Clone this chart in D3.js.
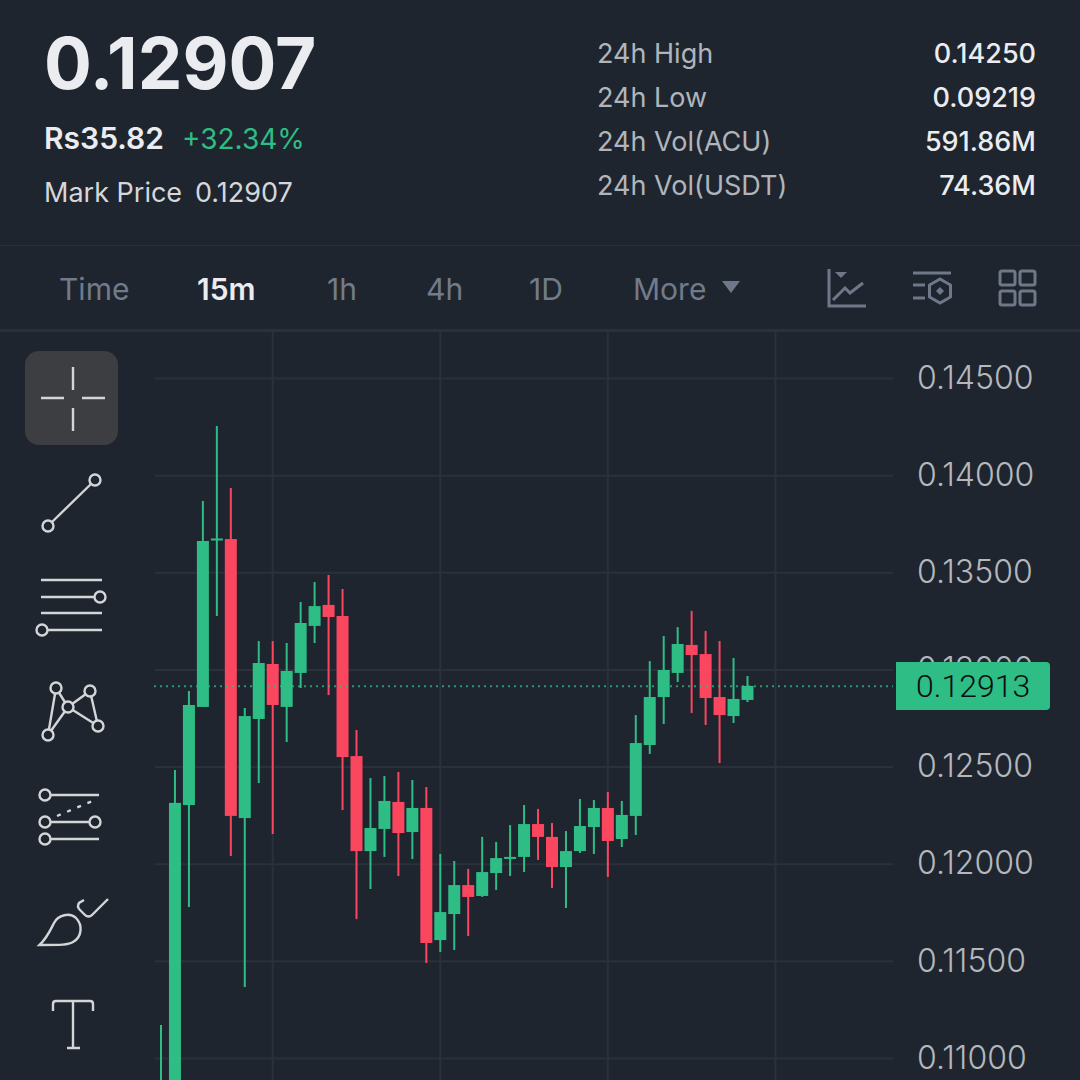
<!DOCTYPE html>
<html>
<head>
<meta charset="utf-8">
<script src="https://cdn.jsdelivr.net/npm/d3@7"></script>
<style>
  html, body { margin: 0; padding: 0; background: #1f252f; }
  svg { display: block; }
  text { font-family: Inter, "Noto Sans", sans-serif; }
</style>
</head>
<body>
<script>
// candle values, one entry per 15m candle
const candleOpen = [0.1075,0.1080,0.12302,0.12807,0.13674,0.13671,0.12235,0.12745,0.13028,0.12807,0.12982,0.13224,0.13332,0.13275,0.12554,0.12065,0.12179,0.12318,0.12163,0.12287,0.11607,0.11741,0.11890,0.11834,0.11952,0.12035,0.12035,0.12204,0.12138,0.11983,0.12065,0.12189,0.12287,0.12127,0.12246,0.12611,0.12858,0.12982,0.13126,0.13079,0.12858,0.12760,0.12843];
const candleHigh = [0.11170,0.12482,0.12889,0.13867,0.14253,0.13934,0.12801,0.13146,0.13146,0.13136,0.13347,0.13450,0.13486,0.13414,0.12688,0.12441,0.12451,0.12472,0.12431,0.12395,0.12050,0.12014,0.11973,0.12138,0.12112,0.12199,0.12302,0.12282,0.12210,0.12168,0.12333,0.12328,0.12369,0.12323,0.12765,0.13043,0.13172,0.13218,0.13301,0.13198,0.13146,0.13059,0.12966];
const candleLow = [0.1070,0.1075,0.11777,0.12807,0.13275,0.12040,0.11365,0.12415,0.12153,0.12626,0.12904,0.13136,0.12868,0.12276,0.11715,0.11870,0.12035,0.11937,0.12024,0.11489,0.11546,0.11556,0.11628,0.11829,0.11865,0.11937,0.11957,0.12019,0.11875,0.11772,0.12055,0.12050,0.11932,0.12086,0.12148,0.12565,0.12719,0.12935,0.12776,0.12714,0.12518,0.12724,0.12832];
const candleClose = [0.1085,0.12313,0.12817,0.13661,0.13674,0.12246,0.12760,0.13033,0.12817,0.12992,0.13239,0.13326,0.13270,0.12549,0.12065,0.12184,0.12323,0.12158,0.12287,0.11592,0.11751,0.11890,0.11829,0.11957,0.12029,0.12035,0.12204,0.12138,0.11983,0.12065,0.12194,0.12287,0.12117,0.12251,0.12621,0.12858,0.12997,0.13131,0.13074,0.12853,0.12765,0.12848,0.12915];

const priceTicks = [0.145,0.14,0.135,0.13,0.125,0.12,0.115,0.11];
const timeTicks = [8,20,32,44];
const lastPrice = 0.12913;

const statLabels = ["24h High","24h Low","24h Vol(ACU)","24h Vol(USDT)"];
const statValues = ["0.14250","0.09219","591.86M","74.36M"];
const tabLabels = ["Time","15m","1h","4h","1D","More"];
const tabX = [59,197,327,426,529,633];

const bg = "#1f252f", green = "#2ebd85", red = "#fb4660", line = "#2b313b", iconGrey = "#6f7889", toolGrey = "#d4d5d7";

let svg = d3.select("body").append("svg").attr("width",1080).attr("height",1080);
svg.append("rect").attr("width",1080).attr("height",1080).attr("fill",bg);

// header
svg.append("text").attr("x",44).attr("y",89).attr("font-size",71).attr("font-weight",700).attr("fill","#eaecef").text("0.12907");
svg.append("text").attr("x",44).attr("y",149).attr("font-size",30).attr("font-weight",600).attr("fill","#eaecef").text("Rs35.82");
svg.append("text").attr("x",182).attr("y",149).attr("font-size",28).attr("fill",green).text("+32.34%");
svg.append("text").attr("x",44).attr("y",202).attr("font-size",27).attr("fill","#d5d7da").text("Mark Price");
svg.append("text").attr("x",195).attr("y",202).attr("font-size",27).attr("fill","#d5d7da").text("0.12907");

statLabels.forEach((d,i) => {
  svg.append("text").attr("x",597).attr("y",63+i*44).attr("font-size",27).attr("fill","#b0b5bc").text(d);
  svg.append("text").attr("x",1036).attr("y",63+i*44).attr("font-size",27).attr("font-weight",500).attr("text-anchor","end").attr("fill","#eaecef").text(statValues[i]);
});

svg.append("rect").attr("x",0).attr("y",245).attr("width",1080).attr("height",1).attr("fill",line);
svg.append("rect").attr("x",0).attr("y",329).attr("width",1080).attr("height",3).attr("fill",line);

// interval tabs
tabLabels.forEach((d,i) => {
  svg.append("text").attr("x",tabX[i]).attr("y",300).attr("font-size",30)
    .attr("font-weight",d==="15m"?600:400)
    .attr("fill",d==="15m"?"#eaecef":"#727b8a").text(d);
});
svg.append("path").attr("d","M722 281H740L731 293Z").attr("fill",iconGrey);

// header icons
let topIcons = svg.append("g").attr("fill","none").attr("stroke",iconGrey).attr("stroke-width",3);
topIcons.append("path").attr("d","M829 269V306H866");
topIcons.append("path").attr("d","M835 272H847L841 278Z").attr("fill",iconGrey).attr("stroke","none");
topIcons.append("path").attr("d","M833 300L845 288L850 293L863 283");
topIcons.append("path").attr("d","M913 273H951M913 285H925M913 298H925");
topIcons.append("path").attr("d","M940 279L950.5 285V297L940 303L929.5 297V285Z");
topIcons.append("path").attr("d","M940 287L944 291L940 295L936 291Z").attr("fill",iconGrey).attr("stroke","none");
[[1000,271],[1020,271],[1000,291],[1020,291]].forEach(p => {
  topIcons.append("rect").attr("x",p[0]).attr("y",p[1]).attr("width",15).attr("height",14).attr("rx",2);
});

// scales and grid
let x = d3.scaleLinear().domain([0,42]).range([161,747.5]);
let y = d3.scaleLinear().domain([0.145,0.11]).range([378,1058]);

let chart = svg.append("g");
chart.selectAll(".vgrid").data(timeTicks).enter().append("line")
  .attr("class","vgrid")
  .attr("x1",d=>x(d)).attr("x2",d=>x(d)).attr("y1",332).attr("y2",1080)
  .attr("stroke",line).attr("stroke-width",2);

let gridAxis = d3.axisLeft(y).tickValues(priceTicks).tickSize(738).tickFormat("");
chart.append("g").attr("transform","translate(893,0)").call(gridAxis)
  .call(g => g.select(".domain").remove())
  .call(g => g.selectAll("line").attr("stroke",line).attr("stroke-width",2));

// candles
let candles = chart.selectAll(".candle").data(candleOpen).enter().append("g").attr("class","candle");
let colour = (d,i) => candleClose[i] >= d ? green : red;
candles.append("line")
  .attr("x1",(d,i)=>x(i)).attr("x2",(d,i)=>x(i))
  .attr("y1",(d,i)=>y(candleHigh[i])).attr("y2",(d,i)=>y(candleLow[i]))
  .attr("stroke",colour).attr("stroke-width",2);
candles.append("rect")
  .attr("x",(d,i)=>x(i)-6).attr("width",12)
  .attr("y",(d,i)=>y(Math.max(d,candleClose[i])))
  .attr("height",(d,i)=>Math.max(2,Math.abs(y(d)-y(candleClose[i]))))
  .attr("fill",colour);

// last price line
chart.append("line").attr("x1",154).attr("x2",893).attr("y1",y(lastPrice)).attr("y2",y(lastPrice))
  .attr("stroke",green).attr("stroke-width",2).attr("stroke-dasharray","2 4").attr("opacity",0.75);

// price axis
let priceAxis = d3.axisRight(y).tickValues(priceTicks).tickSize(0).tickPadding(0).tickFormat(d3.format(".5f"));
svg.append("g").attr("transform","translate(917,0)").call(priceAxis)
  .call(g => g.select(".domain").remove())
  .call(g => g.selectAll("text").attr("font-family","Roboto").attr("font-weight",300).attr("font-size",32).attr("fill","#b4b8bd"));

// last price tag
svg.append("path").attr("d","M896 662H1046Q1050 662 1050 666V706Q1050 710 1046 710H896Z").attr("fill",green);
svg.append("text").attr("x",916).attr("y",y(lastPrice)+11).attr("font-family","Roboto").style("font-family","Roboto").attr("font-weight",300).attr("font-size",32).attr("fill","#0b0e11").text(d3.format(".5f")(lastPrice));

// drawing tools on the left
svg.append("rect").attr("x",25).attr("y",351).attr("width",93).attr("height",94).attr("rx",14).attr("fill","#3c3e41");
let tools = svg.append("g").attr("fill","none").attr("stroke",toolGrey).attr("stroke-width",2.4);
tools.append("path").attr("d","M41 398H64M82 398H105M73 367V390M73 408V431");
tools.append("path").attr("d","M52 522L91 484");
tools.append("path").attr("d","M41 580H102M41 597H95M41 613H102M48 630H102");
tools.append("path").attr("d","M56 688L48 735M56 688L68 707M68 707L90 691M68 707L98 726M90 691L98 726M68 707L48 735");
tools.append("path").attr("d","M50 795H99M50 822H90M50 839H99");
tools.append("path").attr("d","M57 816L95 800").attr("stroke-dasharray","4 7");
tools.append("path").attr("d","M39.5 945C47 938 50 931 54 923C58 915 70 912 76 918C83 925 82 937 73 942C68 945 62 945 39.5 945Z");
tools.append("path").attr("d","M84 900L79 903C77 906 78 908 80 910L85 915C87 917 90 917 92 915L108 899");
tools.append("path").attr("d","M53 1011V1004Q53 1001 56 1001H90Q93 1001 93 1004V1011M73 1001V1048M67 1048H80");
[[48,526],[95,480],[100,597],[42,630],[56,688],[90,691],[68,707],[48,735],[98,726],[45,795],[45,822],[95,822],[45,839]].forEach(p => {
  tools.append("circle").attr("cx",p[0]).attr("cy",p[1]).attr("r",5.5).attr("fill",bg);
});
</script>
</body>
</html>
